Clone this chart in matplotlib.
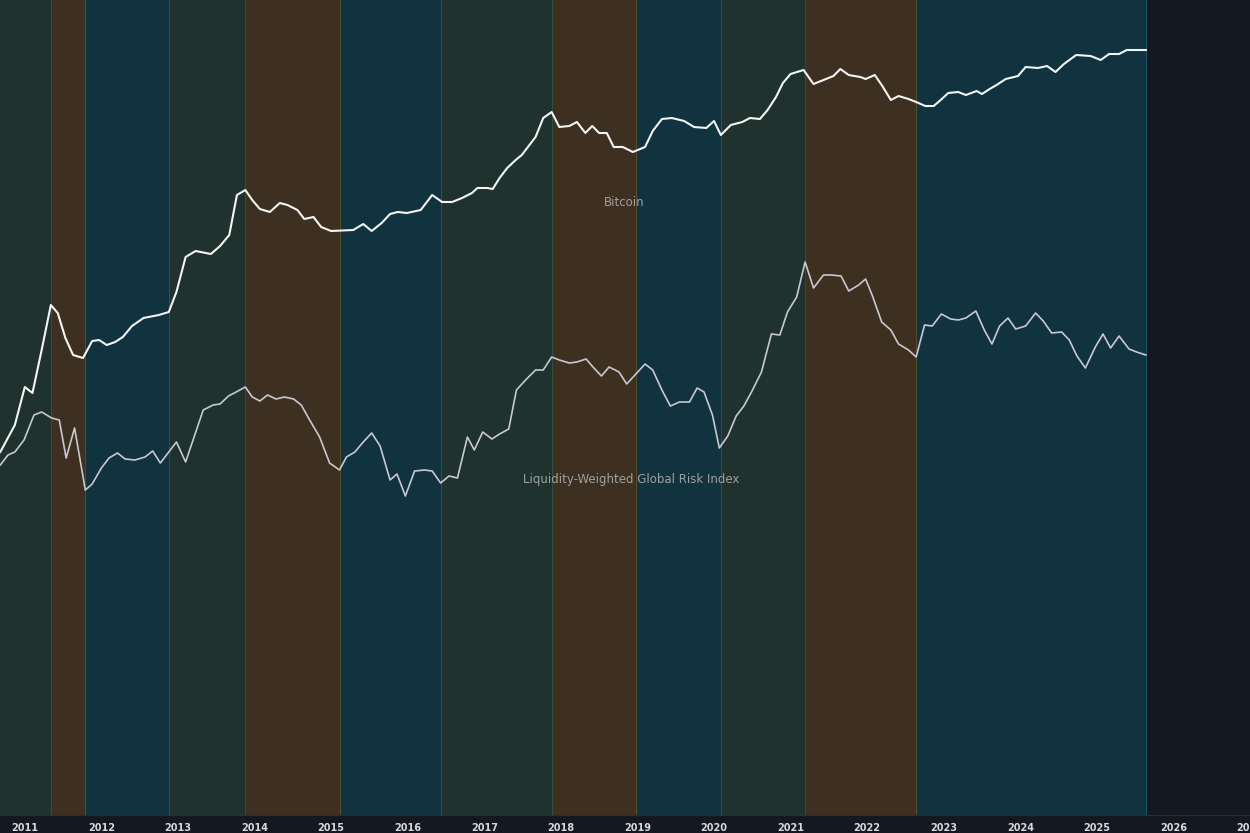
import matplotlib
matplotlib.use("Agg")
import matplotlib.pyplot as plt

btc_x = [2010.68,2010.87,2011.00,2011.10,2011.22,2011.34,2011.43,2011.53,2011.63,2011.76,2011.88,2011.97,2012.07,2012.18,2012.28,2012.40,2012.55,2012.75,2012.88,2012.98,2013.10,2013.23,2013.43,2013.55,2013.67,2013.77,2013.88,2013.97,2014.07,2014.20,2014.33,2014.43,2014.56,2014.65,2014.77,2014.87,2015.00,2015.29,2015.42,2015.53,2015.66,2015.77,2015.87,2015.99,2016.17,2016.32,2016.45,2016.58,2016.71,2016.84,2016.91,2017.04,2017.11,2017.20,2017.30,2017.41,2017.49,2017.59,2017.67,2017.77,2017.88,2017.98,2018.11,2018.21,2018.32,2018.41,2018.50,2018.60,2018.69,2018.81,2018.94,2019.10,2019.20,2019.32,2019.45,2019.61,2019.74,2019.90,2020.00,2020.09,2020.22,2020.37,2020.47,2020.60,2020.70,2020.81,2020.90,2021.00,2021.17,2021.30,2021.43,2021.56,2021.65,2021.76,2021.91,2021.98,2022.10,2022.19,2022.31,2022.41,2022.54,2022.64,2022.76,2022.87,2022.96,2023.06,2023.19,2023.29,2023.43,2023.50,2023.60,2023.69,2023.81,2023.97,2024.07,2024.23,2024.35,2024.46,2024.57,2024.73,2024.92,2025.05,2025.16,2025.29,2025.39,2025.64]
btc_y = [363,390,428,422,465,510,502,477,460,457,474,475,470,473,478,489,497,500,503,523,558,564,561,569,580,620,625,615,606,603,612,610,605,596,598,588,584,585,591,584,592,601,603,602,605,620,613,613,617,622,627,627,626,637,647,655,660,670,678,697,703,688,689,693,682,689,682,682,668,668,663,668,684,696,697,694,688,687,694,680,690,693,697,696,705,718,732,741,745,731,735,739,746,740,738,736,740,730,715,719,716,713,709,709,715,722,723,720,724,721,726,730,736,739,748,747,749,743,751,760,759,755,761,761,765,765]

risk_x = [2010.68,2010.78,2010.87,2010.99,2011.12,2011.22,2011.35,2011.45,2011.54,2011.65,2011.79,2011.88,2012.00,2012.10,2012.21,2012.31,2012.44,2012.57,2012.67,2012.77,2012.88,2012.98,2013.10,2013.21,2013.33,2013.46,2013.55,2013.66,2013.76,2013.88,2013.97,2014.07,2014.17,2014.28,2014.39,2014.51,2014.61,2014.72,2014.85,2014.98,2015.11,2015.20,2015.31,2015.42,2015.53,2015.64,2015.77,2015.86,2015.97,2016.09,2016.22,2016.32,2016.43,2016.54,2016.65,2016.78,2016.87,2016.98,2017.10,2017.20,2017.32,2017.42,2017.54,2017.67,2017.77,2017.88,2017.98,2018.11,2018.21,2018.33,2018.42,2018.53,2018.63,2018.76,2018.86,2018.98,2019.10,2019.20,2019.32,2019.43,2019.55,2019.68,2019.78,2019.87,2019.98,2020.07,2020.18,2020.29,2020.39,2020.49,2020.62,2020.75,2020.86,2020.96,2021.08,2021.19,2021.30,2021.43,2021.53,2021.66,2021.76,2021.89,2021.98,2022.07,2022.19,2022.31,2022.41,2022.54,2022.64,2022.75,2022.85,2022.97,2023.09,2023.19,2023.29,2023.42,2023.53,2023.63,2023.73,2023.84,2023.94,2024.07,2024.20,2024.30,2024.41,2024.54,2024.64,2024.74,2024.85,2024.98,2025.08,2025.18,2025.29,2025.42,2025.52,2025.64]
risk_y = [350,360,363,375,400,403,397,395,357,387,325,331,347,357,362,356,355,358,364,352,363,373,353,378,405,410,411,419,423,428,418,414,420,416,418,416,410,395,378,352,345,358,363,373,382,369,335,341,319,344,345,344,332,339,337,378,365,383,376,381,386,425,435,445,445,458,455,452,453,456,448,439,448,443,431,441,451,445,425,409,413,413,427,423,400,367,379,399,409,423,443,481,480,503,518,553,527,540,540,539,524,530,536,519,493,485,471,465,458,490,489,501,496,495,497,504,485,471,489,497,486,489,502,494,482,483,475,459,447,468,481,467,479,466,463,460]

regions = [(2010.0,2011.34,'g'),(2011.34,2011.79,'b'),(2011.79,2012.88,'u'),(2012.88,2013.88,'g'),
           (2013.88,2015.11,'b'),(2015.11,2016.43,'u'),(2016.43,2017.88,'g'),(2017.88,2018.98,'b'),
           (2018.98,2020.09,'u'),(2020.09,2021.19,'g'),(2021.19,2022.64,'b'),(2022.64,2025.64,'u')]
fill = {'g':'#1f322e','b':'#3d3021','u':'#11323f'}
edge = {'g':'#2f5040','b':'#5a4a28','u':'#1d5566'}
years = list(range(2011, 2028))

fig = plt.figure(figsize=(12.5, 8.33), dpi=100, facecolor='#141821')
ax = fig.add_axes([0, 18/833, 1, 815/833])
ax.set_facecolor('#141821')
for a, b, k in regions:
    ax.axvspan(a, b, color=fill[k], lw=0)
    ax.axvline(b, color=edge[k], lw=0.8)
ax.plot(btc_x, btc_y, color='#f4f4f4', lw=1.5)
ax.plot(risk_x, risk_y, color='#c8c8d2', lw=1.2)
ax.text(2018.83, 613, 'Bitcoin', color='#a0a0a0', fontsize=8.5, ha='center', va='center')
ax.text(2018.92, 335, 'Liquidity-Weighted Global Risk Index', color='#a0a0a0', fontsize=8.5, ha='center', va='center')
ax.set_xlim(2010.676, 2026.73)
ax.set_ylim(0, 815)
ax.set_yticks([])
ax.set_xticks(years)
ax.set_xticklabels([str(y) for y in years])
ax.tick_params(axis='x', length=0, colors='#d8d8dc', labelsize=7, pad=6)
for t in ax.get_xticklabels():
    t.set_fontweight('bold')
for s in ax.spines.values():
    s.set_visible(False)
ax.spines['bottom'].set_visible(True)
ax.spines['bottom'].set_color('#2a2e38')
fig.savefig('out.png', dpi=100, facecolor=fig.get_facecolor())
